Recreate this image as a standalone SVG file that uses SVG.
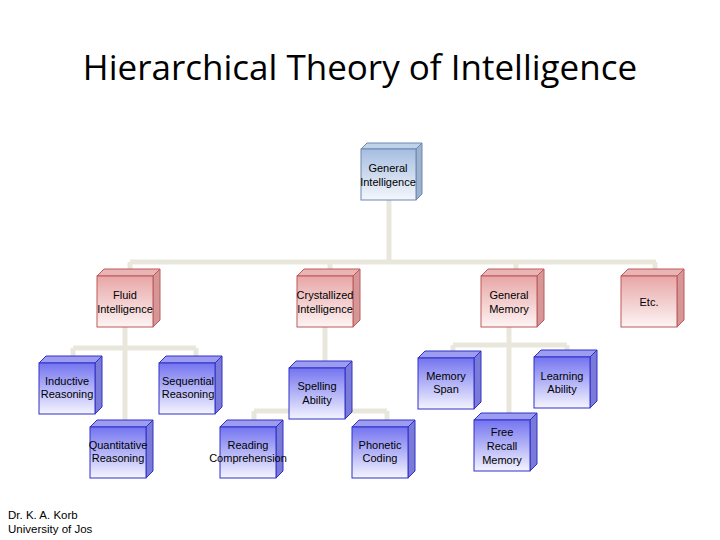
<svg xmlns="http://www.w3.org/2000/svg" width="720" height="540" viewBox="0 0 720 540">
<style>
.t{font-family:"Liberation Sans",Arial,sans-serif;font-size:11px;fill:#000;text-anchor:middle}
.c{stroke:#e9e7dc;stroke-width:5;fill:none}
.rf{fill:url(#gr);stroke:#c05858;stroke-width:1}
.rs{fill:#d49696;stroke:#c05858;stroke-width:1}
.rt{fill:#e8b4b4;stroke:#c05858;stroke-width:1}
.bf{fill:url(#gb);stroke:#3030c8;stroke-width:1}
.bs{fill:#7a7ad8;stroke:#3030c8;stroke-width:1}
.bt{fill:#9c9cf0;stroke:#3030c8;stroke-width:1}
.gf{fill:url(#gg);stroke:#6a88b0;stroke-width:1}
.gs{fill:#9cb2cf;stroke:#6a88b0;stroke-width:1}
.gt{fill:#c0d2ea;stroke:#6a88b0;stroke-width:1}
.f{font-family:"Liberation Sans",Arial,sans-serif;font-size:11.5px}
</style>
<defs>
<linearGradient id="gr" x1="0" y1="0" x2="0" y2="1"><stop offset="0" stop-color="#e8a6a6"/><stop offset="1" stop-color="#fdf4f4"/></linearGradient>
<linearGradient id="gb" x1="0" y1="0" x2="0" y2="1"><stop offset="0" stop-color="#7474f0"/><stop offset="1" stop-color="#f4f4ff"/></linearGradient>
<linearGradient id="gg" x1="0" y1="0" x2="0" y2="1"><stop offset="0" stop-color="#a6bde0"/><stop offset="1" stop-color="#f4f7fc"/></linearGradient>
<g id="box-r"><polygon class="rt" points="0,0 7,-7 63,-7 56,0"/><polygon class="rs" points="56,0 63,-7 63,44 56,51"/><rect class="rf" x="0" y="0" width="56" height="51"/></g>
<g id="box-b"><polygon class="bt" points="0,0 7,-7 63,-7 56,0"/><polygon class="bs" points="56,0 63,-7 63,44 56,51"/><rect class="bf" x="0" y="0" width="56" height="51"/></g>
</defs>
<rect width="720" height="540" fill="#fff"/>
<text x="360" y="80" style="font-family:'Open Sans','Liberation Sans',sans-serif;font-size:35px;text-anchor:middle">Hierarchical Theory of Intelligence</text>
<g id="connectors">
<path class="c" d="M389 200V262M130 262H656M130 262V270M330 262V270M516 262V270M655 262V270"/>
<path class="c" d="M125 327V466M73 348H196M73 348V356M196 348V356"/>
<path class="c" d="M325 327V362M254 411H387M254 411V420M387 411V420"/>
<path class="c" d="M509 327V414M453 345H567M453 345V352M567 345V350"/>
</g>
<g id="n-gi"><polygon class="gt" points="361,149 367,143 422,143 416,149"/><polygon class="gs" points="416,149 422,143 422,194 416,200"/><rect class="gf" x="361" y="149" width="55" height="51"/><text class="t" x="388" y="172">General</text><text class="t" x="388" y="186">Intelligence</text></g>
<g id="n-fluid"><use href="#box-r" x="97" y="276"/><text class="t" x="125" y="299">Fluid</text><text class="t" x="125" y="313">Intelligence</text></g>
<g id="n-cryst"><use href="#box-r" x="297" y="276"/><text class="t" x="325" y="299">Crystallized</text><text class="t" x="325" y="313">Intelligence</text></g>
<g id="n-gm"><use href="#box-r" x="481" y="276"/><text class="t" x="509" y="299">General</text><text class="t" x="509" y="313">Memory</text></g>
<g id="n-etc"><use href="#box-r" x="621" y="276"/><text class="t" x="649" y="306">Etc.</text></g>
<g id="n-ind"><use href="#box-b" x="39" y="363"/><text class="t" x="67" y="385">Inductive</text><text class="t" x="67" y="398">Reasoning</text></g>
<g id="n-seq"><use href="#box-b" x="159" y="363"/><text class="t" x="188" y="385">Sequential</text><text class="t" x="188" y="398">Reasoning</text></g>
<g id="n-quant"><use href="#box-b" x="90" y="427"/><text class="t" x="118" y="449">Quantitative</text><text class="t" x="118" y="462">Reasoning</text></g>
<g id="n-spell"><use href="#box-b" x="289" y="368"/><text class="t" x="317" y="390">Spelling</text><text class="t" x="317" y="404">Ability</text></g>
<g id="n-read"><use href="#box-b" x="220" y="427"/><text class="t" x="248" y="449">Reading</text><text class="t" x="248" y="462">Comprehension</text></g>
<g id="n-phon"><use href="#box-b" x="352" y="427"/><text class="t" x="380" y="449">Phonetic</text><text class="t" x="380" y="462">Coding</text></g>
<g id="n-ms"><use href="#box-b" x="418" y="358"/><text class="t" x="446" y="380">Memory</text><text class="t" x="446" y="393">Span</text></g>
<g id="n-la"><use href="#box-b" x="534" y="357"/><text class="t" x="562" y="380">Learning</text><text class="t" x="562" y="393">Ability</text></g>
<g id="n-fr"><use href="#box-b" x="474" y="420"/><text class="t" x="502" y="436">Free</text><text class="t" x="502" y="450">Recall</text><text class="t" x="502" y="464">Memory</text></g>
<text class="f" x="8" y="519">Dr. K. A. Korb</text>
<text class="f" x="8" y="533">University of Jos</text>
</svg>
